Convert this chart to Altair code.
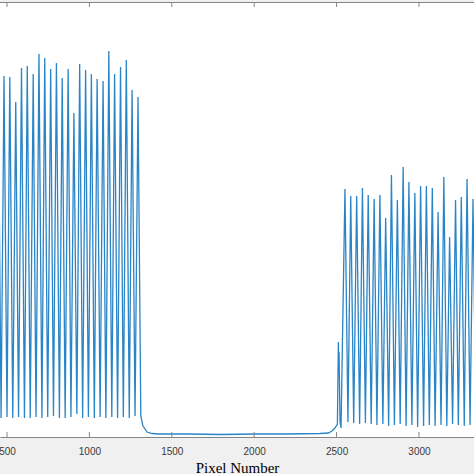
import altair as alt
import pandas as pd

# ---- data (y in arbitrary intensity units) ----
left_peak_x = [447, 482, 517, 553, 588, 623, 659, 694, 729, 765, 800, 835, 871,
               906, 941, 977, 1012, 1047, 1083, 1118, 1153, 1189, 1224, 1259, 1295]
left_peak_v = [350, 360, 359, 334, 368, 370, 362, 382, 378, 367, 373, 358, 367,
               323, 372, 366, 362, 357, 355, 385, 362, 369, 376, 346, 339]
left_trough_x = [464, 500, 535, 570, 606, 641, 676, 712, 747, 782, 818, 853,
                 888, 924, 959, 994, 1030, 1065, 1100, 1136, 1171, 1206, 1242, 1277]
left_trough_v = [18, 19, 18, 19, 18, 18, 19, 18, 19, 20, 18, 18,
                 19, 22, 18, 19, 18, 19, 18, 19, 18, 19, 18, 20]

gap_x = [1312, 1325, 1350, 1380, 1420, 1600, 1800, 2000, 2200, 2400, 2450,
         2472, 2490, 2505, 2511, 2513, 2515, 2517, 2521, 2527]
gap_v = [20, 10, 4, 2.5, 2, 2, 1.5, 2, 2, 2.5, 3,
         5, 8, 12, 94, 72, 84, 60, 14, 8]

right_peak_x = [2551, 2586, 2622, 2657, 2692, 2728, 2763, 2798, 2833, 2869, 2904, 2939,
                2975, 3010, 3045, 3081, 3116, 3151, 3186, 3222, 3257, 3292, 3328]
right_peak_v = [247, 240, 240, 248, 241, 237, 241, 218, 261, 236, 269, 254,
                243, 250, 250, 248, 224, 259, 199, 236, 239, 257, 237]
right_trough_x = [2569, 2604, 2640, 2675, 2710, 2745, 2781, 2816, 2851, 2886, 2922, 2957,
                  2992, 3028, 3063, 3098, 3134, 3169, 3204, 3239, 3275, 3310, 3346]
right_trough_v = [14, 13, 12, 13, 12, 11, 12, 10, 11, 12, 10, 11,
                  9, 10, 11, 10, 11, 10, 12, 11, 10, 11, 10]

tick_values = [500, 1000, 1500, 2000, 2500, 3000]

xs = left_peak_x + left_trough_x + gap_x + right_peak_x + right_trough_x
vs = left_peak_v + left_trough_v + gap_v + right_peak_v + right_trough_v
df = pd.DataFrame({"x": xs, "v": vs}).sort_values("x").reset_index(drop=True)
df["i"] = range(len(df))
ticks_df = pd.DataFrame({"x": tick_values})
one_df = pd.DataFrame({"a": [0]})

W, H = 474, 435
xscale = alt.Scale(domain=[457.5, 3334], nice=False, zero=False)
yscale = alt.Scale(domain=[-1, 434], nice=False, zero=False)
xaxis = alt.Axis(values=tick_values, title="Pixel Number", format="d",
                 grid=False, ticks=False, domainColor="#858585", domainWidth=1,
                 labelFont="Liberation Sans", labelFontSize=10,
                 labelColor="#3a3a3a", labelPadding=9, labelFlush=False,
                 labelOverlap=False, titleFont="Liberation Serif",
                 titleFontSize=15, titleFontWeight="normal",
                 titleColor="black", titlePadding=4)

line = alt.Chart(df).mark_line(color="#2a84c6", strokeWidth=1.3, clip=True).encode(
    x=alt.X("x:Q", scale=xscale, axis=xaxis),
    y=alt.Y("v:Q", scale=yscale, axis=None),
    order="i:Q",
)

top_ticks = alt.Chart(ticks_df).mark_rule(color="#858585", strokeWidth=1).encode(
    x=alt.X("x:Q", scale=xscale, axis=xaxis), y=alt.value(0), y2=alt.value(5))
bot_ticks = alt.Chart(ticks_df).mark_rule(color="#858585", strokeWidth=1).encode(
    x=alt.X("x:Q", scale=xscale, axis=xaxis), y=alt.value(H - 5), y2=alt.value(H))
border = alt.Chart(one_df).mark_rule(color="#858585", strokeWidth=1).encode(
    x=alt.value(0), x2=alt.value(W), y=alt.value(0.5))

chart = alt.layer(line, top_ticks, bot_ticks, border).properties(
    width=W, height=H, autosize="none",
    padding={"left": 0, "top": 2, "right": 0, "bottom": 474 - 2 - H},
    background="#f0f0f0",
).configure_view(stroke=None, fill="white")

chart.save("out.html", embed_options={"renderer": "svg", "actions": False})
